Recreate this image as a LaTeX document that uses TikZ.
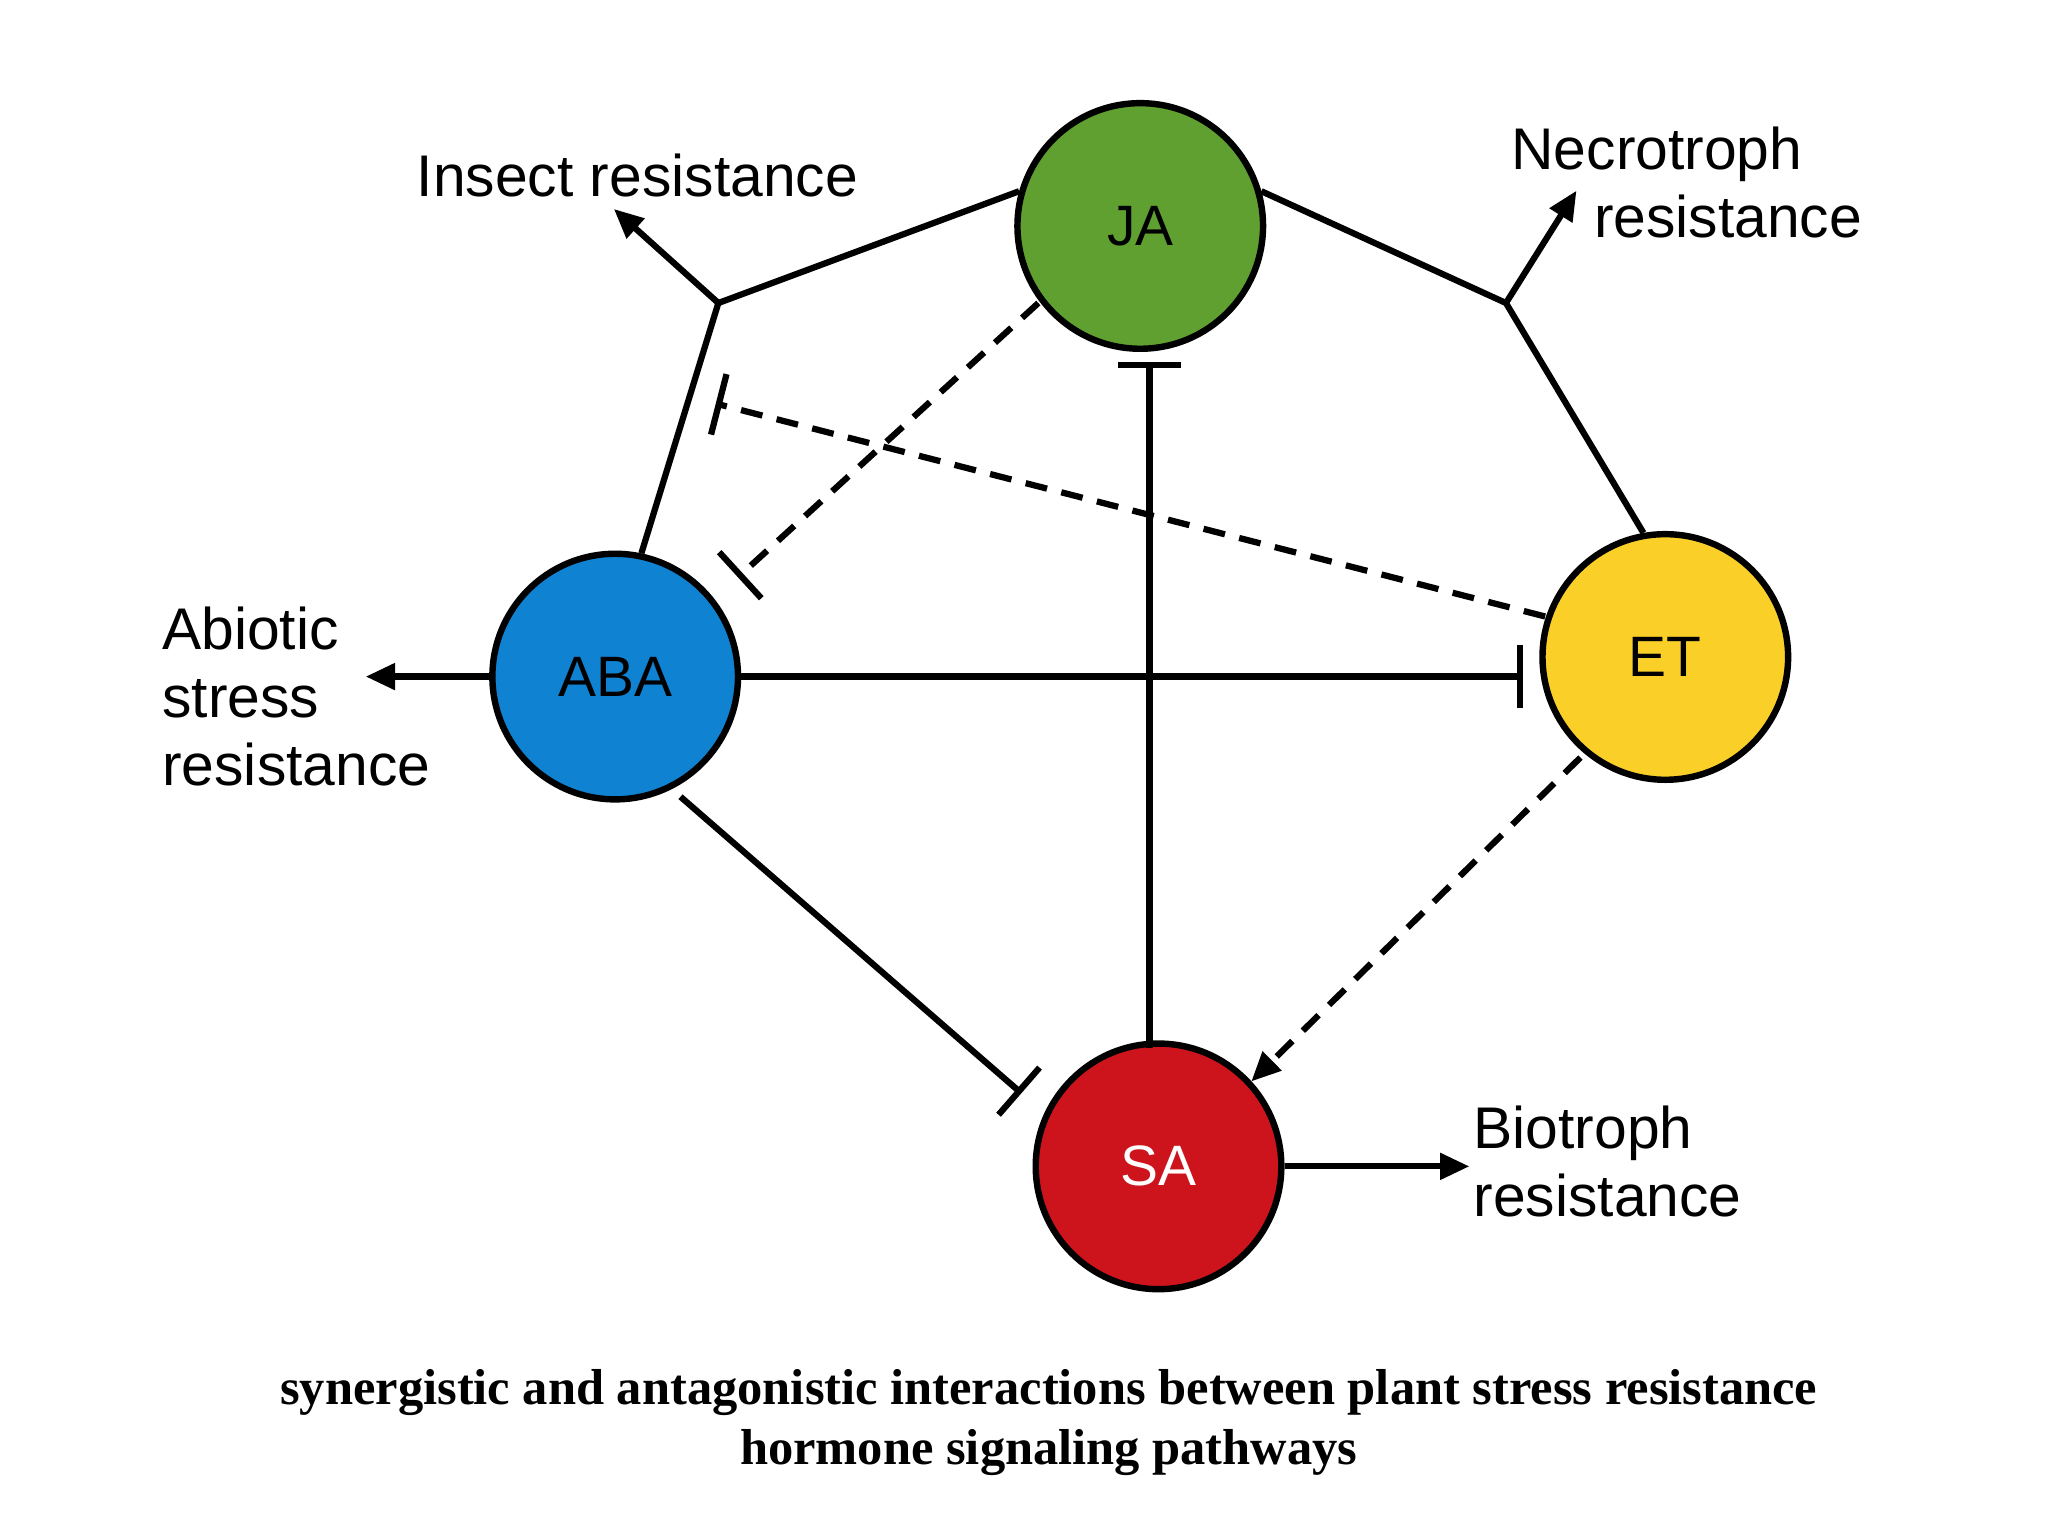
\documentclass[tikz,border=0pt]{standalone}
\usepackage{fontspec}
\setmainfont{Liberation Serif}
\setsansfont{Liberation Sans}
\usetikzlibrary{arrows.meta}
\definecolor{jag}{RGB}{96,160,48}
\definecolor{abab}{RGB}{16,130,210}
\definecolor{ety}{RGB}{250,208,40}
\definecolor{sar}{RGB}{205,20,28}
\begin{document}
\begin{tikzpicture}[x=0.025cm,y=-0.025cm,
  hub/.style={circle,draw=black,line width=3.5pt,minimum size=4.7cm,inner sep=0pt,font=\sffamily\fontsize{31}{33}\selectfont},
  lbl/.style={font=\sffamily\fontsize{32}{37}\selectfont,inner sep=0pt},
  con/.style={line width=3.4pt},
  inh/.style={con,-{Bar[width=34pt,line width=3.4pt]}},
  act/.style={con,-{Triangle[length=16pt,width=14pt]}},
  dsh/.style={dashed,dash pattern=on 12pt off 8pt}]
\useasboundingbox (0,0) rectangle (1568,1176);
\node[hub,fill=jag] (JA) at (873,173) {JA};
\node[hub,fill=abab] (ABA) at (471,518) {ABA};
\node[hub,fill=ety] (ET) at (1275,503) {ET};
\node[hub,fill=sar,text=white] (SA) at (887,893) {SA};
\coordinate (jl) at (550,232);
\coordinate (jr) at (1153,232);
\coordinate (ai) at (470,160);
\coordinate (an) at (1207,146);
\coordinate (aa) at (280,518);
\coordinate (ab) at (1125,893);
\node[lbl] (ti) at (488,134) {Insect resistance};
\node[lbl,align=left,anchor=north west] (tn) at (1157,97) {Necrotroph\\\hspace*{45pt}resistance};
\node[lbl,align=left,anchor=west] (ta) at (124,533) {Abiotic\\stress\\resistance};
\node[lbl,align=left,anchor=west] (tb) at (1128,889) {Biotroph\\resistance};
\draw[con] (ABA.78) -- (jl) -- (JA.164);
\draw[act] (jl) -- (ai);
\draw[con] (JA.16) -- (jr) -- (ET.100);
\draw[act] (jr) -- (an);
\draw[act] (ABA.west) -- (aa);
\draw[act] (SA.east) -- (ab);
\draw[inh] (880,802) -- (880,277);
\draw[inh] (ABA.east) -- (1166,518);
\draw[inh] (521,610) -- (782,837);
\draw[inh,dsh] (795,232) -- (565,442);
\draw[inh,dsh] (1183,472) -- (548,309);
\draw[act,dsh] (1210,580) -- (958,828);
\node[font=\bfseries\fontsize{27.5}{33}\selectfont,align=center] (cap) at (803,1089) {synergistic and antagonistic interactions between plant stress resistance\\hormone signaling pathways};
\end{tikzpicture}
\end{document}
